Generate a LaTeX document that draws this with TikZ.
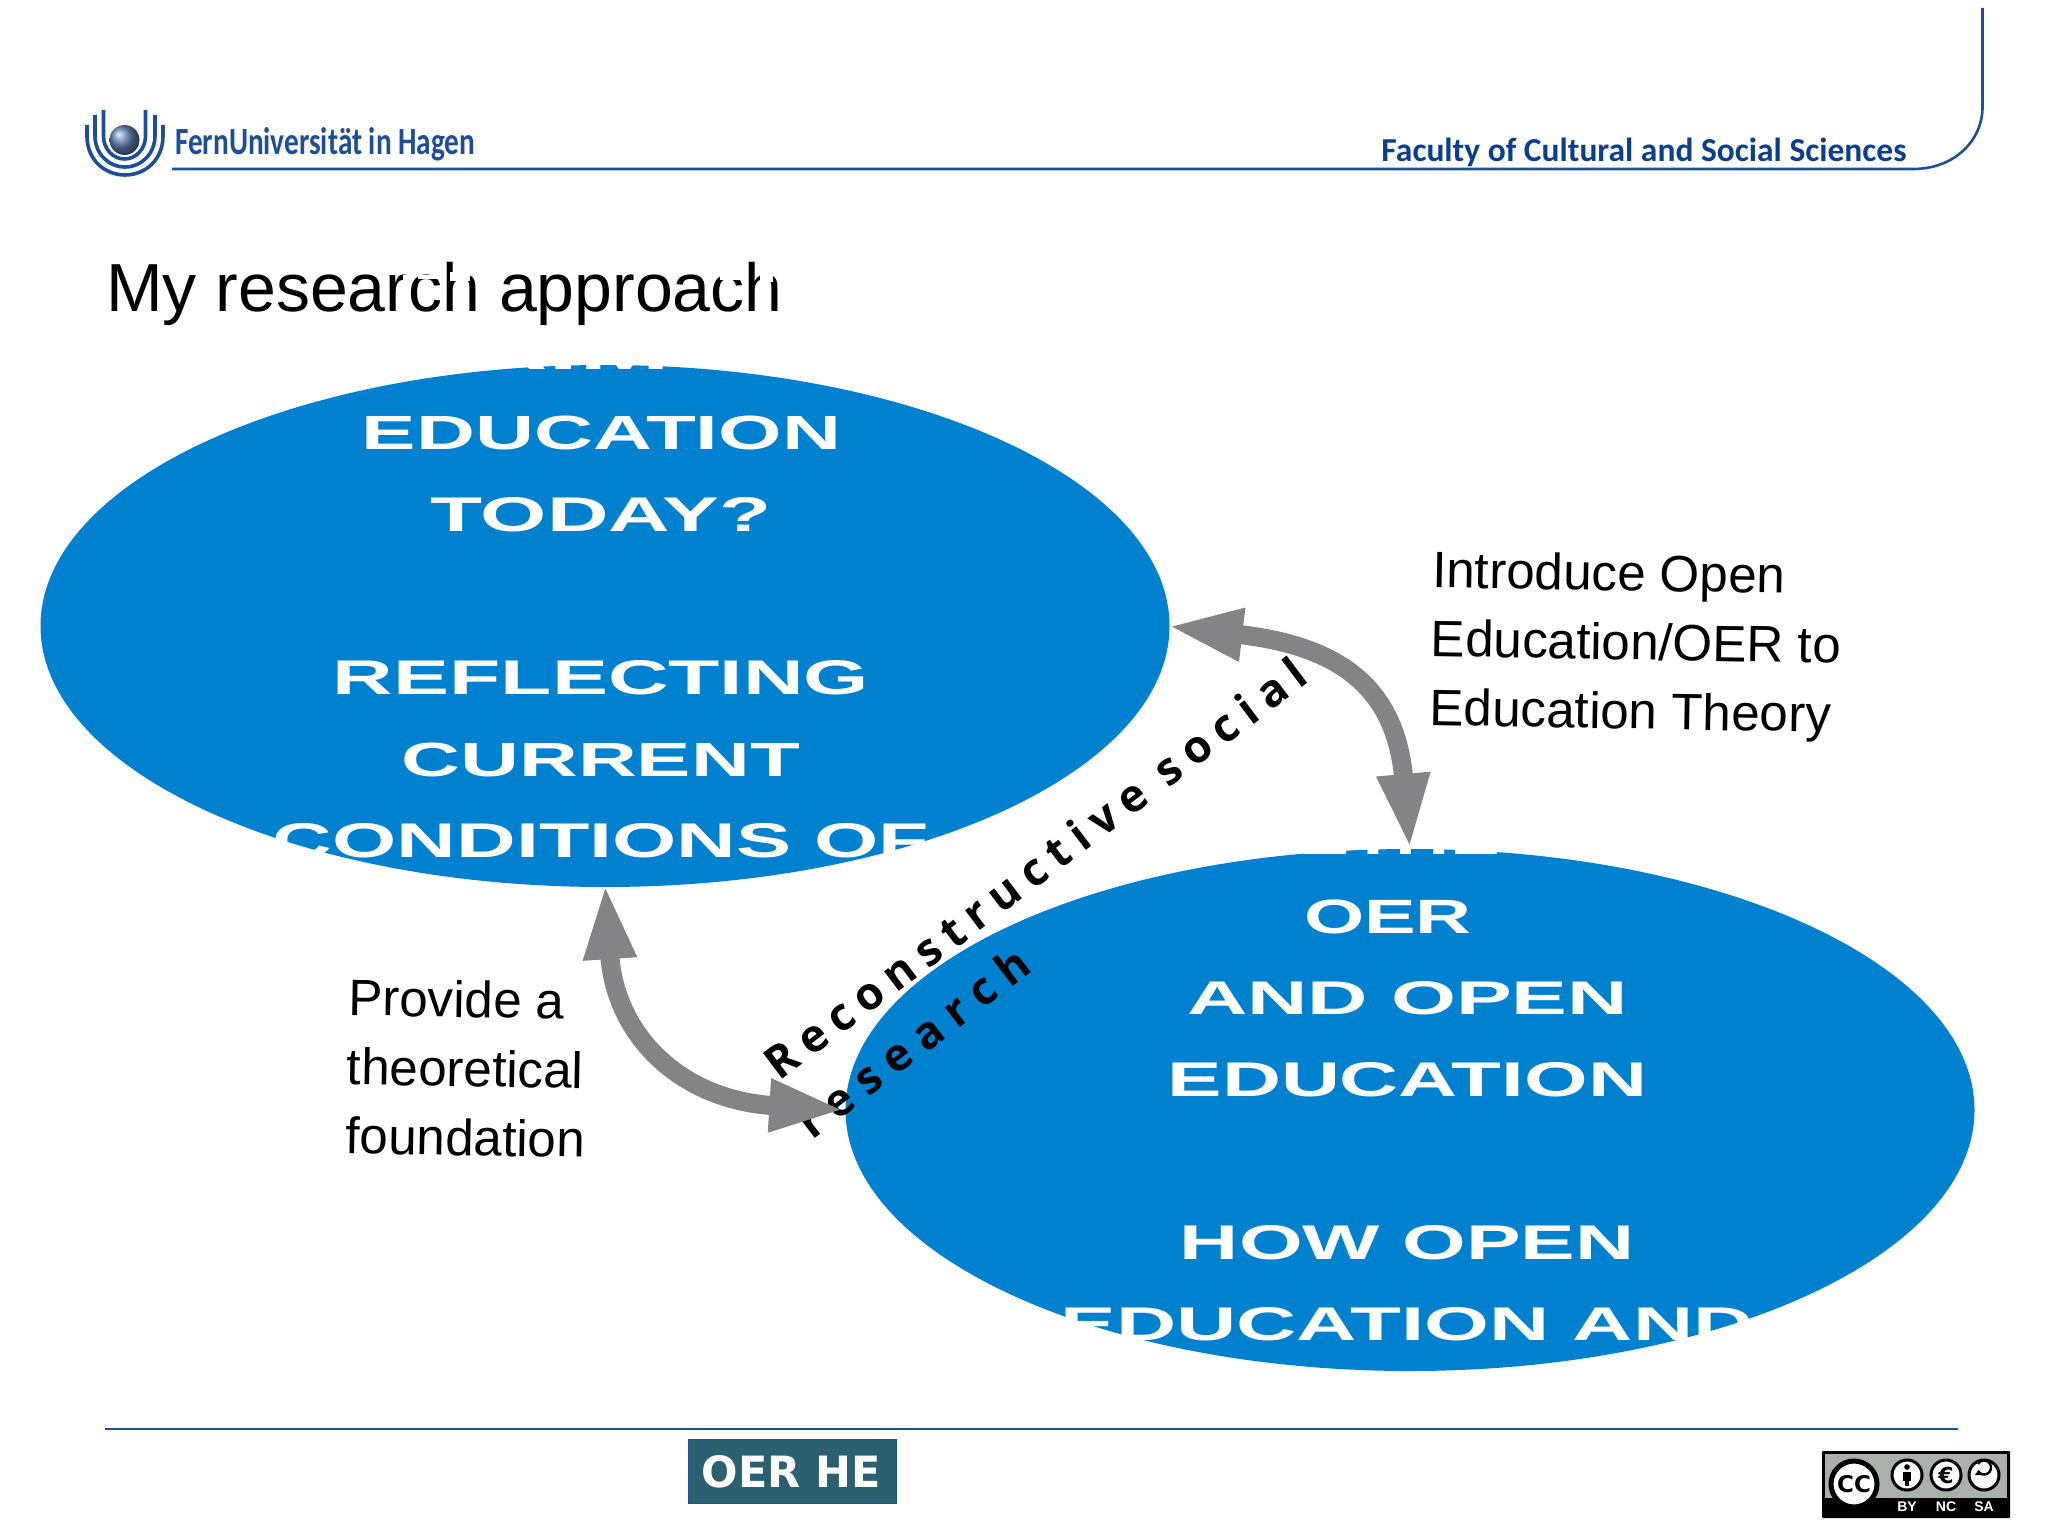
\documentclass[tikz,border=0pt]{standalone}
\usepackage{fontspec}
\usepackage{graphicx}
\usetikzlibrary{shapes.geometric,arrows.meta}
\setmainfont{Liberation Sans}
\newfontfamily\recfont{Open Sans}
\newfontfamily\facfont{Carlito}
\newfontfamily\djv{DejaVu Sans}
\definecolor{blobblue}{HTML}{0081CF}
\definecolor{arrowgray}{HTML}{848385}
\definecolor{navy}{HTML}{1F4E96}
\definecolor{facblue}{HTML}{0B3F8C}
\definecolor{oerteal}{HTML}{2A6070}
\definecolor{ccgray}{HTML}{AAB0AA}
\tikzset{
  blob/.style={ellipse,fill=blobblue,draw=none,inner sep=0pt,minimum width=1129pt,minimum height=522pt},
  tech/.style={inner sep=0pt,text=white,font=\bfseries},
  label/.style={inner sep=0pt,anchor=west,align=left,rotate=-1,font=\fontsize{51.2}{69}\selectfont},
  twohead/.style={draw=arrowgray,line width=19pt,line cap=butt,
    {Triangle[length=76pt,width=48pt,fill=arrowgray]}-{Triangle[length=76pt,width=48pt,fill=arrowgray]}},
  rule/.style={draw=navy,line width=2.6pt},
  mask/.style={fill=white,draw=none},
  logoarc/.style={draw=navy,line width=3.6pt},
  ccicon/.style={circle,fill=white,draw=black,line width=3pt,minimum size=30pt,inner sep=0pt},
  cclabel/.style={inner sep=0pt,text=white,font=\bfseries\fontsize{14}{14}\selectfont}
}
\newcommand{\techline}[6]{\node[tech] (#1) at (#2,#3) {\resizebox{#4pt}{#5pt}{#6}};}
\begin{document}
\begin{tikzpicture}[x=1pt,y=-1pt]
\useasboundingbox (0,0) rectangle (2048,1536);
\fill[white] (0,0) rectangle (2048,1536);

% header rules
\draw[rule] (172,169) -- (1913,169) .. controls (1955,169) and (1982.5,140) .. (1982.5,107) -- (1982.5,8);
\node[inner sep=0pt,text=facblue] (faculty) at (1644,152.5)
  {\resizebox{525pt}{!}{\facfont\bfseries Faculty of Cultural and Social Sciences}};

% logo
\draw[logoarc] (87,125) -- (87,136) .. controls (87,160) and (105,175) .. (125,175) .. controls (145,175) and (163,160) .. (163,136) -- (163,125);
\draw[logoarc] (95,115) -- (95,136) .. controls (95,153) and (108,167) .. (125,167) .. controls (142,167) and (155,153) .. (155,136) -- (155,115);
\draw[logoarc] (103.5,110) -- (103.5,136) .. controls (103.5,149) and (113,159) .. (124.5,159) .. controls (136,159) and (145.5,149) .. (145.5,136) -- (145.5,110);
\shade[ball color=navy!70!white] (124.5,140) circle (15);
\node[inner sep=0pt,anchor=base west,text=navy] (fern) at (175,154)
  {\resizebox{300pt}{27pt}{\facfont\bfseries FernUniversität in Hagen}};

% title
\node[inner sep=0pt,anchor=base west] (title) at (106,311) {\fontsize{68}{80}\selectfont My research approach};
\fill[mask] (403,275) rectangle (413,282);
\fill[mask] (418,275) rectangle (440,279);
\fill[mask] (450,272) rectangle (470,281);
\fill[mask] (720,274) rectangle (742,280);
\fill[mask] (760,273) rectangle (773,282);

% ellipses
\node[blob] (e1) at (605,626) {};
\node[blob] (e2) at (1410,1110) {};

\techline{a0}{570}{353}{200}{33}{AIM}
\techline{a1}{601.5}{432.8}{479}{33.5}{EDUCATION}
\techline{a2}{600.7}{515}{340.5}{34}{TODAY?}
\techline{a3}{601}{678}{536}{34}{REFLECTING}
\techline{a4}{600.8}{759.5}{398}{33.5}{CURRENT}
\techline{a5}{601}{841}{656}{34}{CONDITIONS OF}

\techline{b0}{1400}{837.5}{200}{33}{ETHE}
\techline{b1}{1388}{916.8}{167.6}{33.6}{OER}
\techline{b2}{1407.5}{998.5}{441}{33}{AND OPEN}
\techline{b3}{1407.3}{1080}{479.4}{34}{EDUCATION}
\techline{b4}{1407.3}{1243}{454.6}{34}{HOW OPEN}
\techline{b5}{1407}{1324.5}{693}{33}{EDUCATION AND}

% slanted caption
\node[inner sep=0pt,rotate=37] (rec1) at (1035,868)
  {\recfont\bfseries\addfontfeature{LetterSpace=22}\fontsize{45}{45}\selectfont Reconstructive social};
\node[inner sep=0pt,rotate=37.5] (rec2) at (913,1042)
  {\recfont\bfseries\addfontfeature{LetterSpace=27}\fontsize{45}{45}\selectfont research};

% connectors
\draw[twohead] ([xshift=-3pt]e1.east) .. controls (1330,645) and (1395,680) .. ([yshift=-1pt]e2.north);
\draw[twohead] ([yshift=4pt]e1.south) .. controls (615,1035) and (680,1100) .. (e2.west);

% labels
\node[label] (intro) at (1431,643) {Introduce Open\\Education/OER to\\Education Theory};
\node[label] (prov) at (347,1066) {Provide a\\theoretical\\foundation};

% footer
\draw[rule] (105,1429) -- (1958,1429);
\node[rectangle,fill=oerteal,draw=navy,line width=1pt,minimum width=208pt,minimum height=64pt,inner sep=0pt] (oer) at (792,1471) {};
\node[inner sep=0pt,text=white] (oert) at (791.5,1472) {\resizebox{179pt}{32pt}{\djv\bfseries OER HE}};

% CC badge
\fill[black,rounded corners=1pt] (1822,1451) rectangle (2010,1518);
\fill[ccgray] (1825,1454) rectangle (2007,1498);
\node[circle,fill=white,draw=black,line width=5pt,minimum size=46pt,inner sep=0pt] (cc) at (1854,1484)
  {\djv\bfseries\fontsize{23}{23}\selectfont CC};
\node[ccicon] (by) at (1907,1475) {};
\node[ccicon] (nc) at (1946,1475) {\djv\bfseries\fontsize{22}{22}\selectfont €};
\node[ccicon] (sa) at (1984,1475) {};
\fill[black] (1907,1467) circle (2.8);
\fill[black] (1903,1472) rectangle (1911,1481);
\fill[black] (1905,1481) rectangle (1909,1486);
\draw[black,line width=2.4pt] (1978,1471) arc[start angle=150,end angle=-150,radius=7];
\fill[black] (1975,1475) -- (1982,1475) -- (1978.5,1470) -- cycle;
\node[cclabel] (byt) at (1907,1507) {BY};
\node[cclabel] (nct) at (1946,1507) {NC};
\node[cclabel] (sat) at (1984,1507) {SA};
\end{tikzpicture}
\end{document}
